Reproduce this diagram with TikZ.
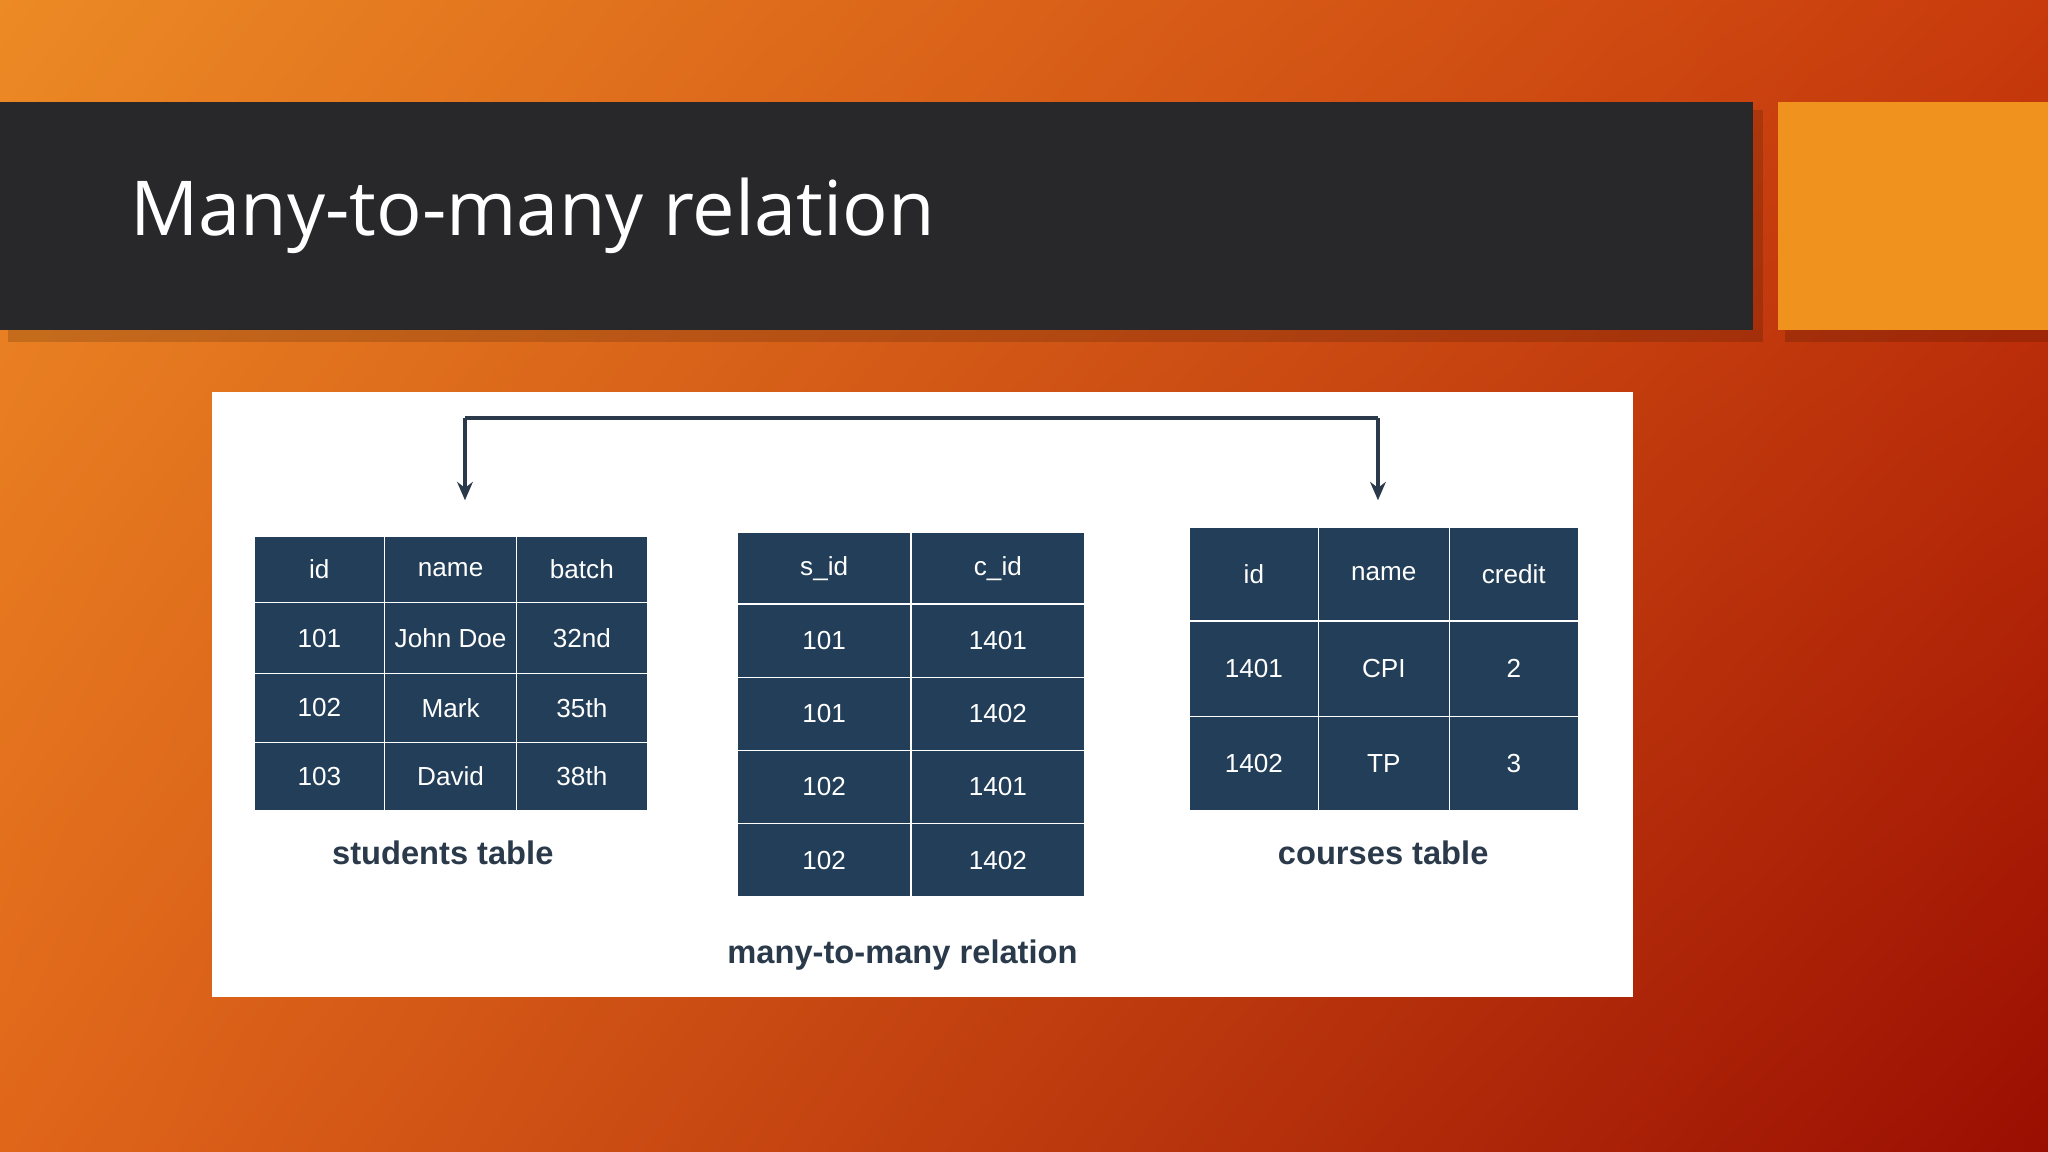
\documentclass[tikz,border=0pt]{standalone}
\usepackage{fontspec}
\setmainfont{Liberation Sans}
\newfontfamily\titlefont{Open Sans}
\usetikzlibrary{arrows.meta,shadings}
\definecolor{bgA}{HTML}{EC8A25}
\definecolor{bgB}{HTML}{E0661A}
\definecolor{bgC}{HTML}{C83A0C}
\definecolor{bgD}{HTML}{9A0E02}
\definecolor{barc}{HTML}{28272A}
\definecolor{sqc}{HTML}{F0931E}
\definecolor{cellc}{HTML}{223E58}
\definecolor{txtc}{HTML}{2B3A4A}
\tikzset{
  cellbox/.style={draw=white, line width=1pt, fill=cellc, text=white, font=\fontsize{20}{24}\selectfont, inner sep=0pt, anchor=north west},
  caption/.style={text=txtc, font=\bfseries\fontsize{25}{30}\selectfont},
  link/.style={draw=txtc, line width=2.5pt, -{Stealth[length=14pt,width=12pt]}}
}
\begin{document}
\begin{tikzpicture}[x=1pt,y=-1pt]
\useasboundingbox (0,0) rectangle (1568,882);
\shade[upper left=bgA, upper right=bgC, lower left=bgB, lower right=bgD] (0,0) rectangle (1568,882);
\fill[black, opacity=0.15] (6,84) rectangle (1350,262);
\fill[black, opacity=0.15] (1367,84) rectangle (1568,262);
\fill[barc] (0,78) rectangle (1342,253);
\fill[sqc] (1361,78) rectangle (1568,253);
\node[anchor=west, text=white, font=\titlefont\fontsize{58}{66}\selectfont] (title) at (96,165) {Many-to-many relation};
\node[fill=white, minimum width=1088pt, minimum height=463pt, inner sep=0pt, anchor=north west] (panel) at (162,300) {};
% students
\foreach \r/\y/\h/\a/\b/\c in {0/410/51/id/name/batch, 1/461/54/101/John Doe/32nd, 2/515/53/102/Mark/35th, 3/568/52/103/David/38th}{
  \node[cellbox, minimum width=100pt, minimum height=\h pt] (s\r a) at (194,\y) {\a};
  \node[cellbox, minimum width=101pt, minimum height=\h pt] (s\r b) at (294,\y) {\b};
  \node[cellbox, minimum width=100pt, minimum height=\h pt] (s\r c) at (395,\y) {\c};
}
% middle
\foreach \r/\y/\a/\b in {0/407/s\_id/c\_id, 1/462/101/1401, 2/518/101/1402, 3/574/102/1401, 4/630/102/1402}{
  \node[cellbox, minimum width=133pt, minimum height=56pt] (m\r a) at (564,\y) {\a};
  \node[cellbox, minimum width=133pt, minimum height=56pt] (m\r b) at (697,\y) {\b};
}
% courses
\foreach \r/\y/\h/\a/\b/\c in {0/403/72/id/name/credit, 1/475/73/1401/CPI/2, 2/548/72/1402/TP/3}{
  \node[cellbox, minimum width=99pt, minimum height=\h pt] (c\r a) at (910,\y) {\a};
  \node[cellbox, minimum width=100pt, minimum height=\h pt] (c\r b) at (1009,\y) {\b};
  \node[cellbox, minimum width=99pt, minimum height=\h pt] (c\r c) at (1109,\y) {\c};
}
\node[caption] (st) at (339,653) {students table};
\node[caption] (ct) at (1059,653) {courses table};
\node[caption] (mt) at (691,731) {many-to-many relation};
\coordinate (L) at (356,383);
\coordinate (R) at (1055,383);
\coordinate (LT) at (356,320);
\coordinate (RT) at (1055,320);
\draw[link] (RT) -- (R);
\draw[link] (LT) -- (RT) (LT) -- (L);
\end{tikzpicture}
\end{document}
